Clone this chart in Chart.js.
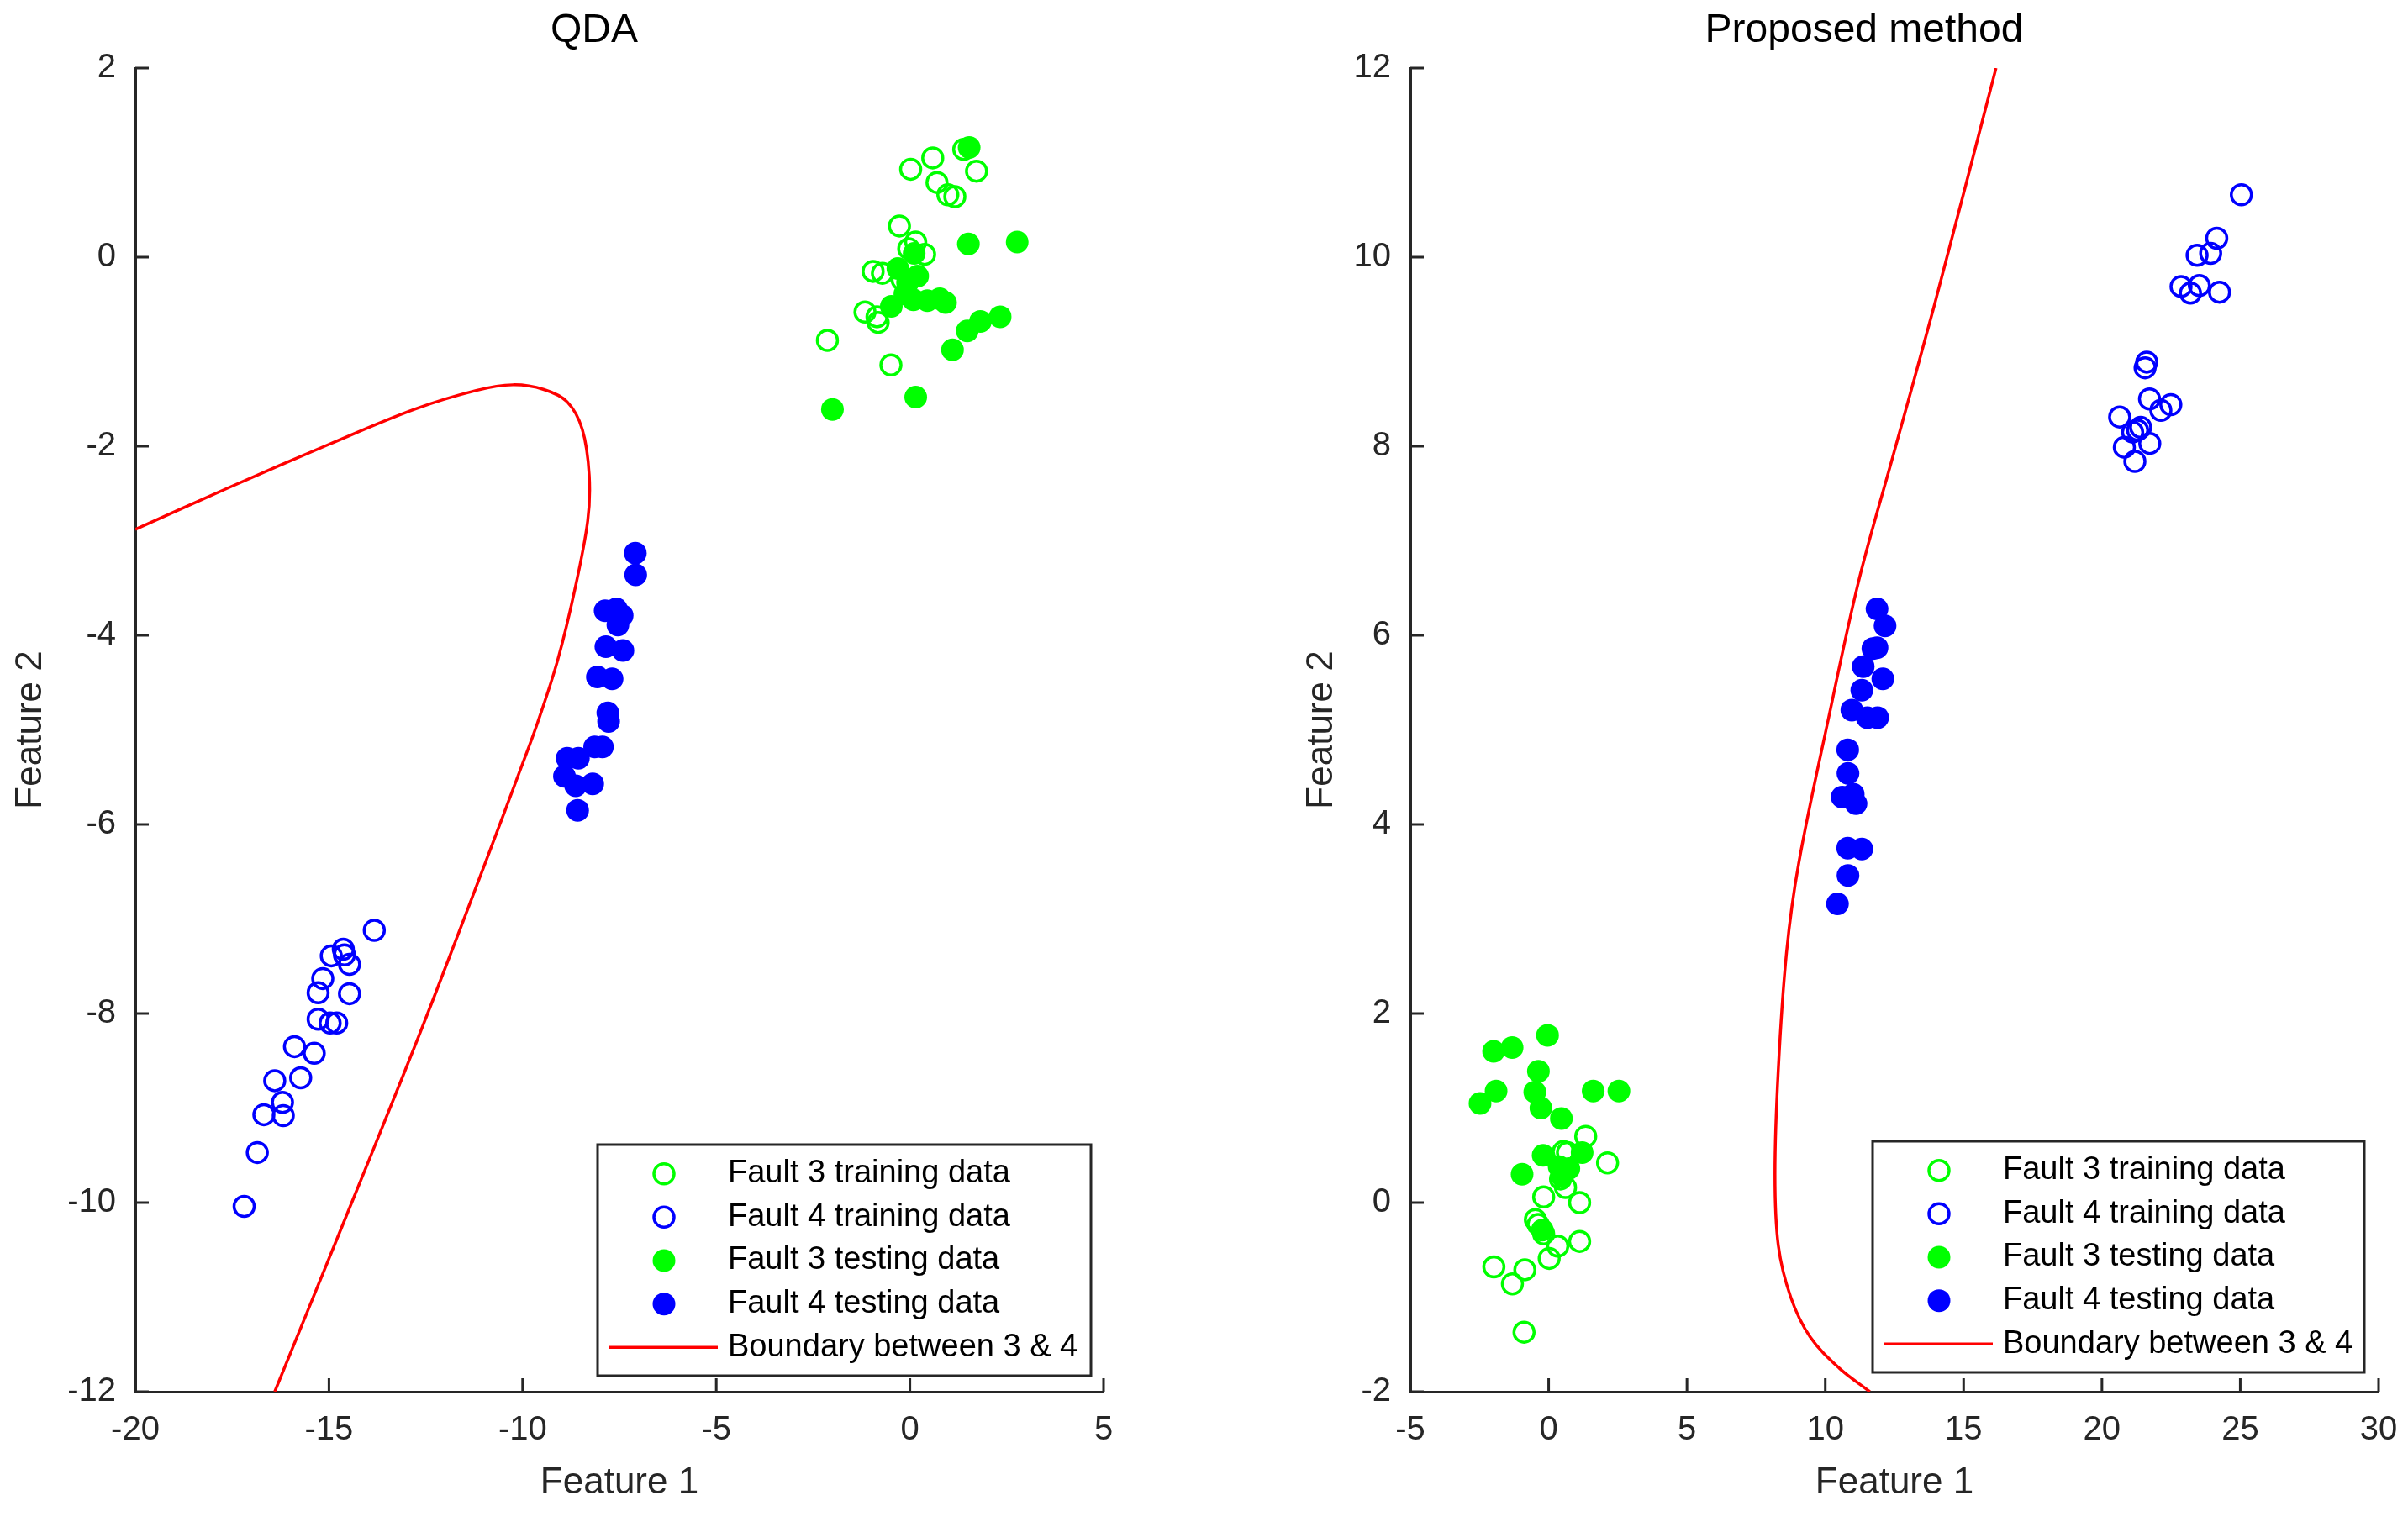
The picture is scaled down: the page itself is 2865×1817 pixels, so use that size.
<!DOCTYPE html>
<html>
<head>
<meta charset="utf-8">
<script src="https://cdn.jsdelivr.net/npm/chart.js@4.4.1/dist/chart.umd.min.js"></script>
<style>
  html, body { margin: 0; padding: 0; background: #ffffff; overflow: hidden; }
  canvas { position: absolute; top: 0; }
</style>
</head>
<body>
<canvas id="chartQDA" width="1432" height="1817" style="left:0px"></canvas>
<canvas id="chartProposed" width="1433" height="1817" style="left:1432px"></canvas>
<script>
// ---- data (Feature 1, Feature 2) ----
const LEGEND_LABELS = ['Fault 3 training data', 'Fault 4 training data', 'Fault 3 testing data', 'Fault 4 testing data', 'Boundary between 3 & 4'];
const AXIS_TITLES = ['Feature 1', 'Feature 2'];
const CHART_TITLES = ['QDA', 'Proposed method'];

const QDA_X_RANGE = [-20, 5];
const QDA_Y_RANGE = [-12, 2];
const PROP_X_RANGE = [-5, 30];
const PROP_Y_RANGE = [-2, 12];
const X_STEP = 5;
const Y_STEP = 2;

const QDA_F3_TRAIN = [[0.02,0.93],[0.59,1.05],[1.39,1.14],[1.72,0.91],[0.70,0.79],[0.98,0.66],[1.16,0.64],[-0.27,0.33],[0.15,0.16],[-0.03,0.09],[0.38,0.03],[-0.95,-0.15],[-0.71,-0.17],[-0.20,-0.24],[-1.16,-0.58],[-0.85,-0.63],[-0.82,-0.69],[-2.13,-0.88],[-0.49,-1.14]];
const QDA_F4_TRAIN = [[-13.83,-7.12],[-14.63,-7.32],[-14.94,-7.39],[-14.60,-7.38],[-14.47,-7.48],[-15.16,-7.63],[-15.28,-7.78],[-14.47,-7.79],[-15.28,-8.06],[-14.97,-8.10],[-14.80,-8.10],[-15.89,-8.35],[-15.38,-8.42],[-16.40,-8.71],[-15.73,-8.68],[-16.20,-8.94],[-16.68,-9.07],[-16.18,-9.08],[-16.85,-9.47],[-17.19,-10.04]];
const QDA_F3_TEST = [[1.53,1.16],[1.51,0.14],[2.77,0.16],[0.11,0.04],[-0.31,-0.12],[0.20,-0.20],[-0.06,-0.27],[-0.13,-0.39],[0.09,-0.45],[0.45,-0.46],[0.77,-0.44],[0.92,-0.48],[-0.48,-0.52],[2.33,-0.63],[1.82,-0.68],[1.48,-0.78],[1.10,-0.98],[0.15,-1.48],[-2.00,-1.61]];
const QDA_F4_TEST = [[-7.09,-3.13],[-7.08,-3.36],[-7.87,-3.74],[-7.58,-3.72],[-7.43,-3.79],[-7.54,-3.89],[-7.85,-4.12],[-7.41,-4.16],[-8.07,-4.44],[-7.69,-4.46],[-7.80,-4.82],[-7.78,-4.91],[-8.14,-5.18],[-7.94,-5.18],[-8.85,-5.30],[-8.56,-5.30],[-8.92,-5.49],[-8.63,-5.59],[-8.19,-5.57],[-8.58,-5.85]];
const QDA_BOUNDARY = [[-20,-2.88],[-17.6,-2.44],[-15.0,-1.98],[-12.8,-1.61],[-11.2,-1.41],[-10.25,-1.35],[-9.45,-1.40],[-8.85,-1.53],[-8.46,-1.82],[-8.28,-2.31],[-8.32,-2.79],[-8.66,-3.53],[-9.10,-4.27],[-9.61,-4.92],[-10.04,-5.40],[-10.93,-6.37],[-12.3,-7.84],[-13.09,-8.66],[-14.67,-10.26],[-16.40,-12]];

const PROP_F3_TRAIN = [[1.34,0.70],[0.53,0.54],[0.68,0.53],[2.13,0.42],[0.43,0.25],[0.61,0.16],[-0.18,0.06],[1.12,0.00],[-0.48,-0.18],[-0.38,-0.23],[-0.18,-0.33],[0.33,-0.46],[1.12,-0.41],[0.02,-0.59],[-1.98,-0.68],[-0.86,-0.71],[-1.31,-0.86],[-0.89,-1.37]];
const PROP_F4_TRAIN = [[25.04,10.66],[24.15,10.20],[23.93,10.04],[23.44,10.02],[22.86,9.69],[23.52,9.70],[23.20,9.62],[24.25,9.63],[21.62,8.89],[21.56,8.83],[21.72,8.50],[22.49,8.44],[22.13,8.38],[20.64,8.31],[21.40,8.20],[21.29,8.17],[21.11,8.15],[21.73,8.03],[20.81,7.99],[21.19,7.84]];
const PROP_F3_TEST = [[-0.04,1.77],[-1.99,1.60],[-1.32,1.64],[-0.37,1.39],[-1.90,1.18],[-2.48,1.05],[-0.50,1.17],[1.61,1.18],[2.54,1.18],[-0.28,1.00],[0.46,0.89],[-0.20,0.50],[1.21,0.53],[-0.96,0.30],[0.38,0.38],[0.73,0.36],[0.48,0.28],[-0.23,-0.29]];
const PROP_F4_TEST = [[11.87,6.28],[12.16,6.10],[11.87,5.87],[11.72,5.86],[11.37,5.67],[12.08,5.54],[11.32,5.42],[10.96,5.21],[11.52,5.13],[11.89,5.13],[10.81,4.79],[10.82,4.54],[10.61,4.29],[11.01,4.32],[11.11,4.22],[10.81,3.75],[11.32,3.74],[10.82,3.46],[10.44,3.16]];
const PROP_BOUNDARY = [[16.17,12],[13.95,9.5],[12.45,7.9],[11.22,6.59],[10.1,5.1],[9.04,3.59],[8.6,2.65],[8.3,1.4],[8.18,0.3],[8.3,-0.45],[8.75,-1.0],[9.45,-1.42],[10.5,-1.75],[11.61,-2]];

// ---- styling ----
const AXIS_COLOR = '#262626';
const FONT = "'Liberation Sans', Arial, Helvetica, sans-serif";
const GREEN = '#00ff00';
const BLUE = '#0000ff';
const RED = '#ff0000';
const OPEN_R = 12;
const FILLED_R = 13.5;
const TICK_LEN = 16;

const toPts = arr => arr.map(([x, y]) => ({ x: x, y: y }));

function buildDatasets(f3Train, f4Train, f3Test, f4Test, boundary) {
  const open = (label, data, color) => ({
    label: label, data: toPts(data), showLine: false, order: 3,
    pointRadius: OPEN_R, pointBorderWidth: 3.5, pointBorderColor: color,
    pointBackgroundColor: 'rgba(0,0,0,0)', pointStyle: 'circle'
  });
  const filled = (label, data, color) => ({
    label: label, data: toPts(data), showLine: false, order: 2,
    pointRadius: FILLED_R, pointBorderWidth: 0, pointBorderColor: color,
    pointBackgroundColor: color, pointStyle: 'circle'
  });
  return [
    open(LEGEND_LABELS[0], f3Train, GREEN),
    open(LEGEND_LABELS[1], f4Train, BLUE),
    filled(LEGEND_LABELS[2], f3Test, GREEN),
    filled(LEGEND_LABELS[3], f4Test, BLUE),
    {
      label: LEGEND_LABELS[4], data: toPts(boundary), showLine: true, order: 1,
      borderColor: RED, borderWidth: 3.5, pointRadius: 0, tension: 0.35, fill: false
    }
  ];
}

// inward MATLAB-style tick marks
const inwardTicks = {
  id: 'inwardTicks',
  afterDraw(chart) {
    const { ctx, chartArea: a, scales } = chart;
    ctx.save();
    ctx.strokeStyle = AXIS_COLOR;
    ctx.lineWidth = 3;
    ctx.beginPath();
    scales.x.ticks.forEach(t => {
      const px = scales.x.getPixelForValue(t.value);
      ctx.moveTo(px, a.bottom);
      ctx.lineTo(px, a.bottom - TICK_LEN);
    });
    scales.y.ticks.forEach(t => {
      const py = scales.y.getPixelForValue(t.value);
      ctx.moveTo(a.left, py);
      ctx.lineTo(a.left + TICK_LEN, py);
    });
    ctx.stroke();
    ctx.restore();
  }
};

const plotTitle = {
  id: 'plotTitle',
  afterDraw(chart, args, opts) {
    const { ctx, chartArea: a } = chart;
    ctx.save();
    ctx.font = opts.size + 'px ' + FONT;
    ctx.fillStyle = '#000000';
    ctx.textAlign = 'center';
    ctx.textBaseline = 'middle';
    ctx.fillText(opts.text, (a.left + a.right) / 2 + opts.dx, opts.y);
    ctx.restore();
  }
};

const boxLegend = {
  id: 'boxLegend',
  afterDatasetsDraw(chart, args, opts) {
    const { ctx, chartArea: a } = chart;
    const left = a.right - opts.right - opts.width;
    const top = a.bottom - opts.bottom - opts.height;
    ctx.save();
    ctx.fillStyle = '#ffffff';
    ctx.fillRect(left, top, opts.width, opts.height);
    ctx.strokeStyle = AXIS_COLOR;
    ctx.lineWidth = 3;
    ctx.strokeRect(left, top, opts.width, opts.height);
    ctx.font = opts.fontSize + 'px ' + FONT;
    ctx.textBaseline = 'middle';
    chart.data.datasets.forEach((ds, i) => {
      const cy = top + 34.7 + i * 51.65;
      const sx = left + 79;
      if (ds.showLine) {
        ctx.strokeStyle = ds.borderColor;
        ctx.lineWidth = ds.borderWidth;
        ctx.beginPath();
        ctx.moveTo(left + 14, cy);
        ctx.lineTo(left + 143, cy);
        ctx.stroke();
      } else if (ds.pointBorderWidth > 0) {
        ctx.strokeStyle = ds.pointBorderColor;
        ctx.lineWidth = ds.pointBorderWidth;
        ctx.beginPath();
        ctx.arc(sx, cy, ds.pointRadius, 0, Math.PI * 2);
        ctx.stroke();
      } else {
        ctx.fillStyle = ds.pointBackgroundColor;
        ctx.beginPath();
        ctx.arc(sx, cy, ds.pointRadius, 0, Math.PI * 2);
        ctx.fill();
      }
      ctx.fillStyle = '#000000';
      ctx.fillText(ds.label, left + 155, cy);
    });
    ctx.restore();
  }
};

function axisOptions(range, step, title, titlePad, fitSize, isX) {
  return {
    type: 'linear', min: range[0], max: range[1],
    ticks: { stepSize: step, color: AXIS_COLOR, font: { family: FONT, size: 40 }, padding: isX ? 22 : 23 },
    grid: { display: false, drawTicks: false },
    border: { display: true, color: AXIS_COLOR, width: 3 },
    title: { display: true, text: title, color: AXIS_COLOR, font: { family: FONT, size: 44 }, padding: titlePad },
    afterFit: s => {
      // fixed axis band, no label overhang so the plot area lands where the figure has it
      if (isX) { s.height = fitSize; s.paddingLeft = 0; s.paddingRight = 0; }
      else { s.width = fitSize; s.paddingTop = 0; s.paddingBottom = 0; }
    }
  };
}

function makeChart(id, datasets, xRange, yRange, s) {
  return new Chart(document.getElementById(id), {
    type: 'scatter',
    data: { datasets: datasets },
    options: {
      responsive: false, animation: false, devicePixelRatio: 1, events: [],
      layout: { padding: { top: 81, right: s.padRight, bottom: 0, left: 0 } },
      scales: {
        x: axisOptions(xRange, X_STEP, AXIS_TITLES[0], { bottom: 26 }, 161, true),
        y: axisOptions(yRange, Y_STEP, AXIS_TITLES[1], { top: s.yTitlePad }, s.yAxisWidth, false)
      },
      plugins: {
        legend: { display: false },
        tooltip: { enabled: false },
        plotTitle: { text: s.title, size: 48, y: 37, dx: s.titleDx },
        boxLegend: { right: s.legRight, bottom: s.legBottom, width: s.legWidth, height: 275, fontSize: 38 }
      }
    },
    plugins: [inwardTicks, plotTitle, boxLegend]
  });
}

makeChart('chartQDA',
  buildDatasets(QDA_F3_TRAIN, QDA_F4_TRAIN, QDA_F3_TEST, QDA_F4_TEST, QDA_BOUNDARY),
  QDA_X_RANGE, QDA_Y_RANGE,
  { padRight: 119, yAxisWidth: 161, yTitlePad: 10, title: CHART_TITLES[0], titleDx: -30,
    legRight: 15, legBottom: 19, legWidth: 587 });

makeChart('chartProposed',
  buildDatasets(PROP_F3_TRAIN, PROP_F4_TRAIN, PROP_F3_TEST, PROP_F4_TEST, PROP_BOUNDARY),
  PROP_X_RANGE, PROP_Y_RANGE,
  { padRight: 35, yAxisWidth: 246, yTitlePad: 114, title: CHART_TITLES[1], titleDx: -36,
    legRight: 17, legBottom: 23, legWidth: 585 });
</script>
</body>
</html>
